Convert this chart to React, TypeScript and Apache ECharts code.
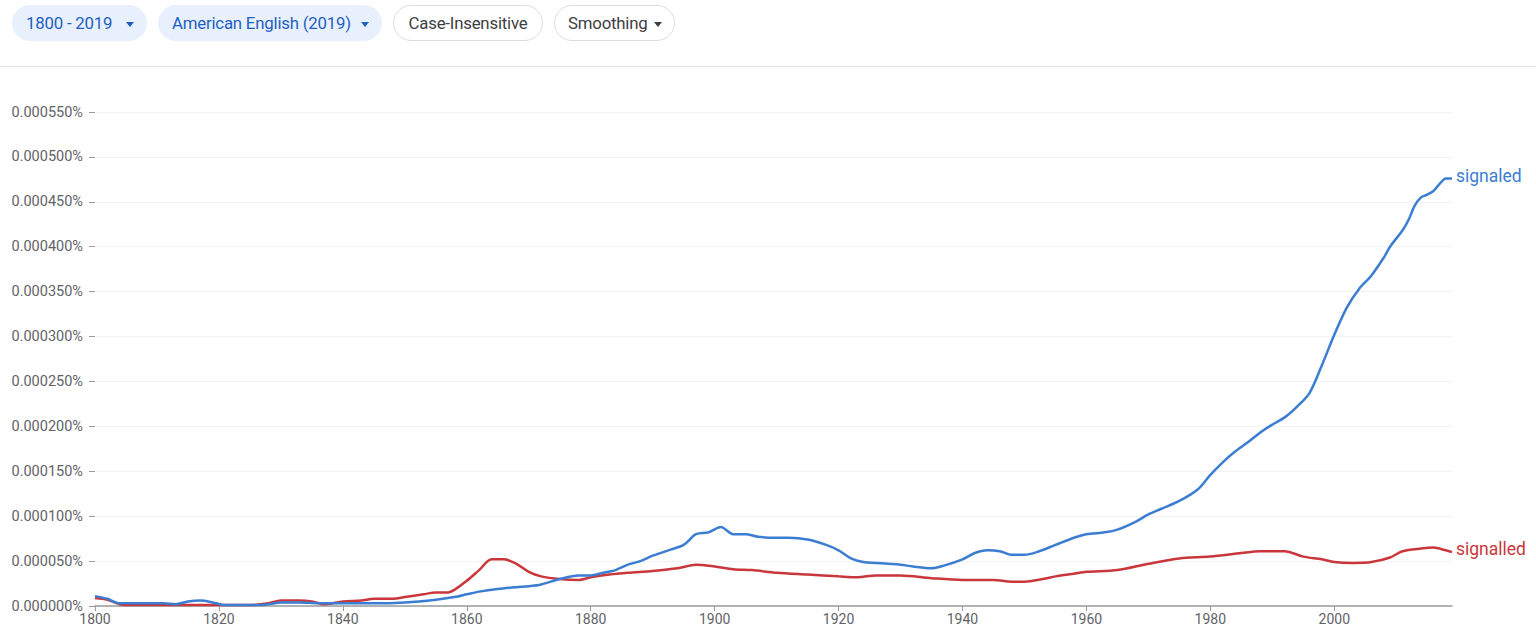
import React, { useEffect, useRef } from "react";
import * as echarts from "echarts";

const signaledYears = [1800, 1802, 1804, 1806, 1809, 1811, 1813, 1815, 1817, 1819, 1821, 1823, 1826, 1828, 1830, 1833, 1836, 1840, 1845, 1850, 1855, 1858, 1860, 1862, 1865, 1868, 1870, 1872, 1875, 1878, 1880, 1882, 1884, 1886, 1888, 1890, 1893, 1895, 1897, 1899, 1901, 1903, 1905, 1907, 1910, 1912, 1915, 1918, 1920, 1922, 1924, 1926, 1928, 1930, 1932, 1935, 1937, 1940, 1942, 1944, 1946, 1948, 1950, 1952, 1955, 1958, 1960, 1963, 1965, 1968, 1970, 1972, 1975, 1978, 1980, 1982, 1984, 1986, 1988, 1990, 1992, 1994, 1996, 1998, 2000, 2002, 2004, 2006, 2008, 2009, 2011, 2012, 2013, 2014, 2015, 2016, 2017, 2018, 2019];
const signaledValues = [11, 8, 3, 3, 3, 3, 2, 5, 6, 4, 1, 1, 1, 2, 4, 4, 3, 3, 3, 4, 7, 10, 13, 16, 19, 21, 22, 24, 30, 34, 34, 37, 40, 46, 50, 56, 63, 68, 80, 82, 88, 80, 80, 77, 76, 76, 74, 68, 62, 53, 49, 48, 47, 46, 44, 42, 45, 52, 59, 62, 61, 57, 57, 60, 68, 76, 80, 82, 85, 94, 102, 108, 117, 130, 146, 160, 172, 182, 193, 202, 210, 222, 237, 268, 302, 332, 353, 368, 388, 400, 418, 430, 446, 455, 458, 462, 470, 476, 476];

const signalledYears = [1800, 1802, 1804, 1806, 1810, 1815, 1820, 1825, 1828, 1830, 1833, 1835, 1837, 1840, 1843, 1845, 1848, 1850, 1853, 1855, 1857, 1858, 1860, 1862, 1864, 1866, 1868, 1870, 1872, 1875, 1878, 1880, 1883, 1886, 1890, 1894, 1897, 1900, 1903, 1906, 1910, 1915, 1920, 1923, 1926, 1930, 1935, 1940, 1945, 1948, 1950, 1953, 1955, 1958, 1960, 1965, 1970, 1975, 1980, 1985, 1988, 1992, 1995, 1998, 2000, 2003, 2006, 2009, 2011, 2014, 2016, 2018, 2019];
const signalledValues = [9, 7, 2, 1, 1, 1, 1, 1, 3, 6, 6, 5, 2, 5, 6, 8, 8, 10, 13, 15, 15, 18, 28, 40, 52, 52, 47, 38, 33, 30, 29, 32, 35, 37, 39, 42, 46, 44, 41, 40, 37, 35, 33, 32, 34, 34, 31, 29, 29, 27, 27, 30, 33, 36, 38, 40, 47, 53, 55, 59, 61, 61, 55, 52, 49, 48, 49, 54, 61, 64, 65, 62, 60];

const xTickYears = [1800, 1820, 1840, 1860, 1880, 1900, 1920, 1940, 1960, 1980, 2000];

const seriesNames = ["signaled", "signalled"];
const seriesColors = ["#3b7dd1", "#c9373c"];

const buttons = [
  { label: "1800 - 2019", x: 12, w: 135, active: true, caret: true },
  { label: "American English (2019)", x: 158, w: 224, active: true, caret: true },
  { label: "Case-Insensitive", x: 393, w: 150, active: false, caret: false },
  { label: "Smoothing", x: 554, w: 121, active: false, caret: true },
];

function Pill(props: { label: string; x: number; w: number; active: boolean; caret: boolean }) {
  const { label, x, w, active, caret } = props;
  return (
    <div
      style={{
        position: "absolute",
        left: x,
        top: 5,
        width: w,
        height: 36,
        boxSizing: "border-box",
        borderRadius: 18,
        background: active ? "#e8f0fe" : "#ffffff",
        border: active ? "1px solid #e8f0fe" : "1px solid #dadce0",
        display: "flex",
        alignItems: "center",
        justifyContent: caret ? "flex-start" : "center",
        paddingLeft: caret ? 13 : 0,
        fontFamily: "Roboto, 'Noto Sans', sans-serif",
        fontSize: 16.8,
        letterSpacing: -0.2,
        color: active ? "#1f5fbf" : "#3c4043",
      }}
    >
      <span>{label}</span>
      {caret ? (
        <span
          style={{
            position: "absolute",
            right: 12,
            top: 16,
            width: 0,
            height: 0,
            borderLeft: "4.5px solid transparent",
            borderRight: "4.5px solid transparent",
            borderTop: "5px solid " + (active ? "#1f5fbf" : "#3c4043"),
          }}
        />
      ) : null}
    </div>
  );
}

export default function App() {
  const ref = useRef<HTMLDivElement>(null);

  useEffect(() => {
    if (!ref.current) return;
    const chart = echarts.init(ref.current, undefined, { renderer: "svg" });
    const mk = (years: number[], vals: number[]) => years.map((y, i) => [y, vals[i]]);
    chart.setOption({
      animation: false,
      grid: { left: 95, right: 84, top: 112, bottom: 31, containLabel: false },
      xAxis: {
        type: "value",
        min: 1800,
        max: 2019,
        interval: 20,
        axisLine: { show: true, lineStyle: { color: "#9a9a9a", width: 1.5 } },
        axisTick: { show: true, length: 5, lineStyle: { color: "#9a9a9a" }, customValues: xTickYears },
        axisLabel: {
          customValues: xTickYears,
          color: "#5f6368",
          fontSize: 14,
          fontFamily: "Roboto, sans-serif",
          margin: 6,
          formatter: (v: number) => String(v),
        },
        splitLine: { show: false },
      },
      yAxis: {
        type: "value",
        min: 0,
        max: 550,
        interval: 50,
        axisLine: { show: false },
        axisTick: { show: true, length: 6, lineStyle: { color: "#9a9a9a" } },
        axisLabel: {
          color: "#5f6368",
          fontSize: 14.5,
          fontFamily: "Roboto, sans-serif",
          margin: 12,
          formatter: (v: number) => (v * 1e-6).toFixed(6) + "%",
        },
        splitLine: { show: true, lineStyle: { color: "#f2f2f2", width: 1 } },
      },
      series: [
        {
          name: seriesNames[0],
          type: "line",
          data: mk(signaledYears, signaledValues),
          smooth: 0.3,
          showSymbol: false,
          lineStyle: { color: seriesColors[0], width: 2.5 },
          itemStyle: { color: seriesColors[0] },
          endLabel: {
            show: true,
            formatter: "{a}",
            color: seriesColors[0],
            fontSize: 17.5,
            fontFamily: "Roboto, sans-serif",
            distance: 4,
            offset: [0, -2],
          },
          z: 3,
        },
        {
          name: seriesNames[1],
          type: "line",
          data: mk(signalledYears, signalledValues),
          smooth: 0.3,
          showSymbol: false,
          lineStyle: { color: seriesColors[1], width: 2.5 },
          itemStyle: { color: seriesColors[1] },
          endLabel: {
            show: true,
            formatter: "{a}",
            color: seriesColors[1],
            fontSize: 17.5,
            fontFamily: "Roboto, sans-serif",
            distance: 4,
            offset: [0, -3],
          },
          z: 2,
        },
      ],
    });
    return () => chart.dispose();
  }, []);

  return (
    <div style={{ position: "fixed", left: 0, top: 0, width: 1536, height: 637, background: "#ffffff" }}>
      {buttons.map((b) => (
        <Pill key={b.label} {...b} />
      ))}
      <div style={{ position: "absolute", left: 0, top: 66, width: 1536, height: 1, background: "#e0e0e0" }} />
      <div ref={ref} style={{ position: "absolute", left: 0, top: 0, width: 1536, height: 637 }} />
    </div>
  );
}
